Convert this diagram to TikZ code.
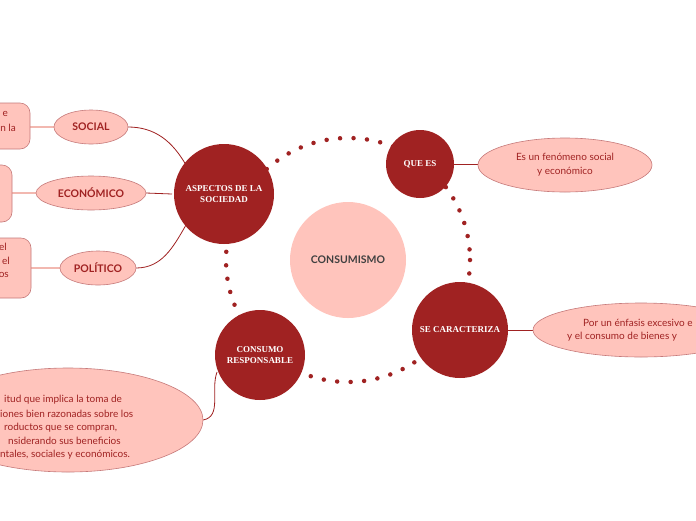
\documentclass[tikz,border=0pt]{standalone}
\usepackage{fontspec}
\setsansfont{Lato}
\setmainfont{Liberation Serif}
\begin{document}
\begin{tikzpicture}[x=1pt,y=-1pt,
  dark/.style={circle,fill=dred,text=white,font=\rmfamily\bfseries\fontsize{9}{11}\selectfont,align=center,inner sep=0},
  pk/.style={ellipse,fill=pink1,draw=dred!60,line width=0.6pt,text=dred,font=\sffamily\fontsize{10}{14}\selectfont,align=center,inner sep=0},
  tx/.style={text=dred,font=\sffamily\fontsize{10}{13}\selectfont,anchor=west,inner sep=0},
  bx/.style={rounded corners=10pt,fill=pink1,draw=dred!60,line width=0.6pt},
  ln/.style={dred,line width=0.8pt},
  lnp/.style={pink2,line width=1.2pt}]
\definecolor{dred}{HTML}{A02222}
\definecolor{pink1}{HTML}{FFC4BC}
\definecolor{pink2}{HTML}{F2B8B0}
\usetikzlibrary{shapes.geometric}
\clip (0,0) rectangle (696,520);
\fill[white] (0,0) rectangle (696,520);
\draw[dred,line width=4.5pt,line cap=round,dash pattern=on 0pt off 13.5pt] (348,260) circle[x radius=122,y radius=122];
\node[circle,fill=pink1,minimum size=116pt,font=\sffamily\bfseries\fontsize{10.5}{12}\selectfont,text=black!75] (c) at (348,260) {CONSUMISMO};
\draw[ln] (172,194) -- (146,193);
\draw[ln] (186,165) to[out=120,in=0] (128,127);
\draw[ln] (186,225) to[out=-120,in=0] (136,268);
\draw[lnp] (54,127) -- (30,127);
\draw[lnp] (36,193) -- (12,193);
\draw[lnp] (60,268) -- (31,268);
\draw[ln] (454,164) -- (478,164);
\draw[ln] (508,330) -- (533,330);
\draw[ln] (217,372) to[out=-110,in=10] (203,420);
\node[dark,minimum size=100pt] (asp) at (224,194) {ASPECTOS DE LA\\SOCIEDAD};
\node[dark,minimum size=68pt] (q) at (420,164) {QUE ES};
\node[dark,minimum size=96pt] (s) at (460,330) {SE CARACTERIZA};
\node[dark,minimum size=90pt] (r) at (260,355) {CONSUMO\\RESPONSABLE};
\node[pk,minimum width=74pt,minimum height=34pt,font=\sffamily\bfseries\fontsize{10.5}{12}\selectfont] (so) at (91,127) {SOCIAL};
\node[pk,minimum width=110pt,minimum height=34pt,font=\sffamily\bfseries\fontsize{10.5}{12}\selectfont] (ec) at (91,193) {ECONÓMICO};
\node[pk,minimum width=76pt,minimum height=34pt,font=\sffamily\bfseries\fontsize{10.5}{12}\selectfont] (po) at (98,268) {POLÍTICO};
\node[pk,minimum width=174pt,minimum height=54pt] (e1) at (565,165) {Es un fenómeno social\\y económico};
\node[pk,minimum width=216pt,minimum height=54pt] (e2) at (641,330) {};
\node[tx] (p1) at (583,323) {Por un énfasis excesivo e};
\node[tx] (p2) at (567,337) {y el consumo de bienes y};
\node[pk,minimum width=270pt,minimum height=104pt] (e3) at (68,420) {};
\node[tx] (l1) at (4,400) {itud que implica la toma de};
\node[tx] (l2) at (0,414) {iones bien razonadas sobre los};
\node[tx] (l3) at (4,428) {roductos que se compran,};
\node[tx] (l4) at (8,441) {nsiderando sus beneficios};
\node[tx] (l5) at (0,455) {ntales, sociales y económicos.};
\draw[bx] (-30,103) rectangle (30,149);
\draw[bx] (-30,165) rectangle (12,222);
\draw[bx] (-30,238) rectangle (31,298);
\node[tx,anchor=east] (b1) at (8,114) {e};
\node[tx,anchor=east] (b2) at (16,128) {n la};
\node[tx,anchor=east] (b3) at (7,247) {el};
\node[tx,anchor=east] (b4) at (10,261) {el};
\node[tx,anchor=east] (b5) at (9,275) {os};
\end{tikzpicture}
\end{document}
